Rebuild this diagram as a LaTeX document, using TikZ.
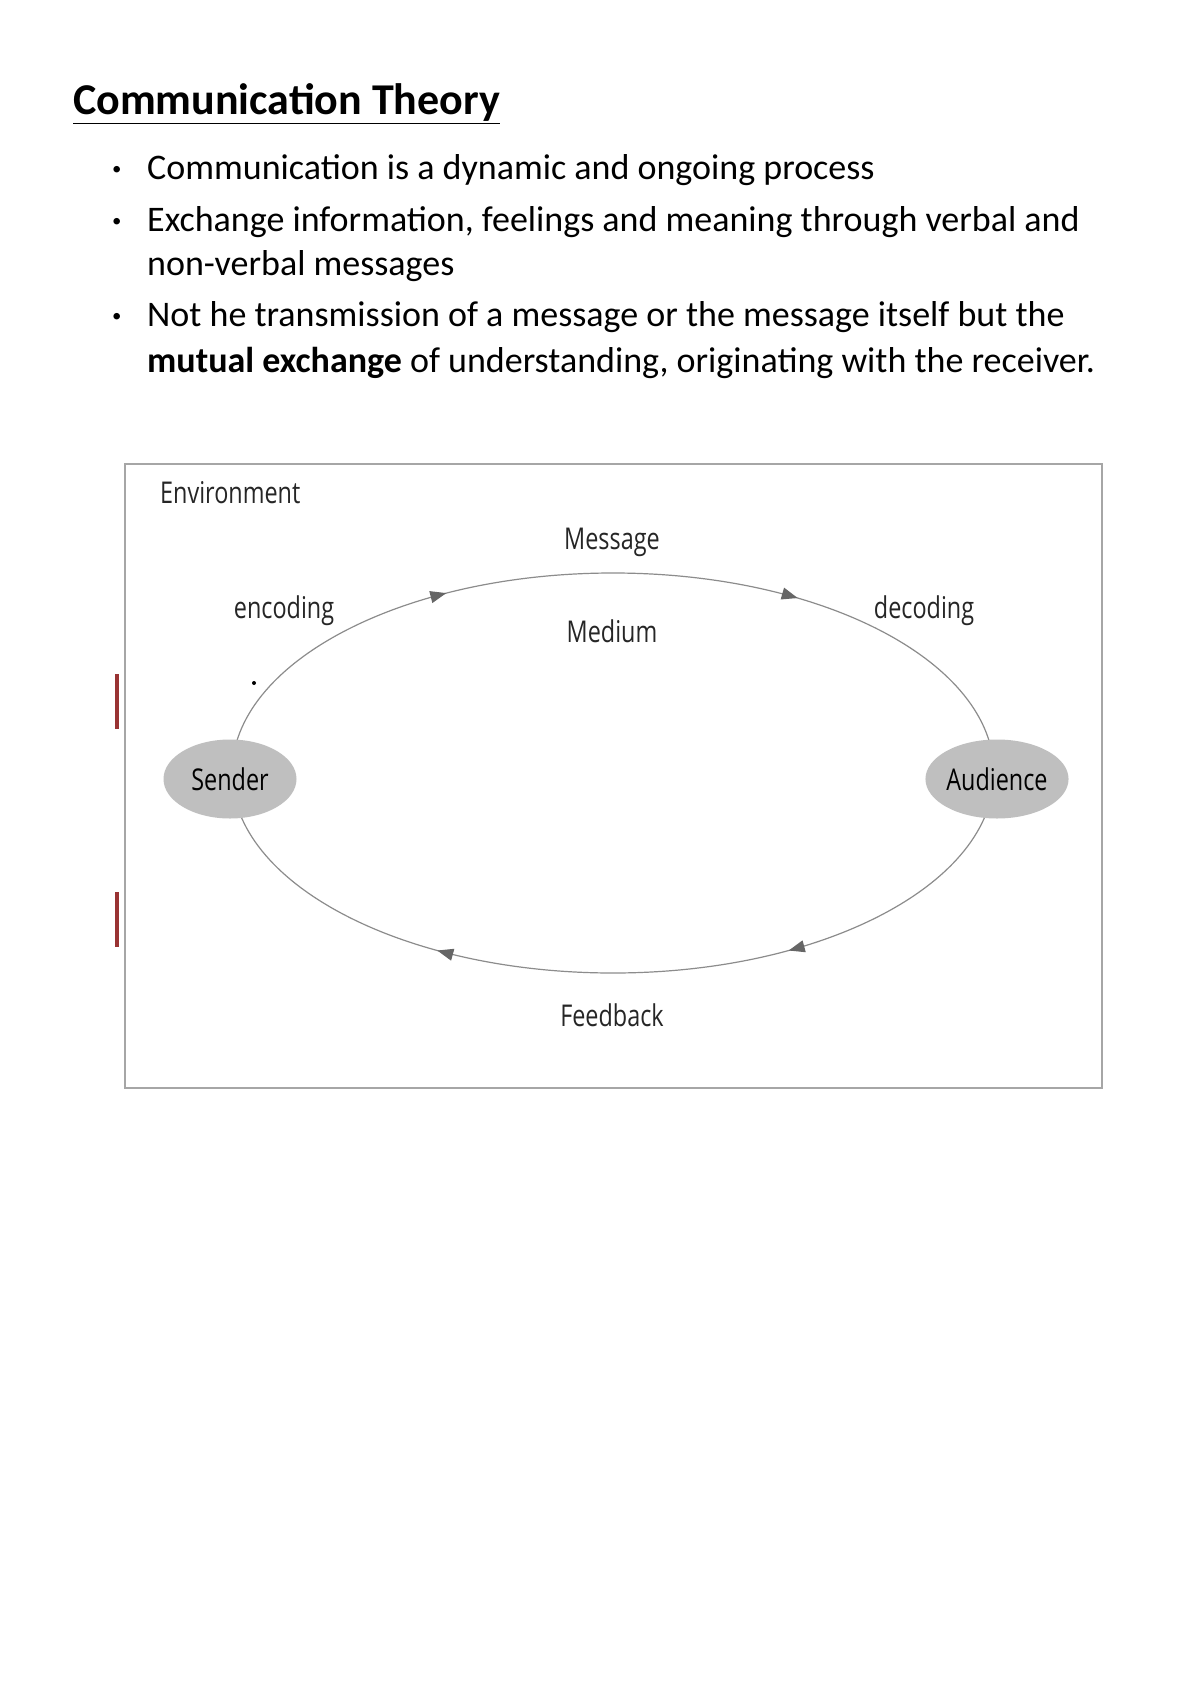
\documentclass[tikz,border=0pt]{standalone}
\usepackage{fontspec}
\setmainfont{Carlito}
\newfontfamily\diagfont{Open Sans}
\usetikzlibrary{shapes.geometric,decorations.markings,arrows.meta}
\begin{document}
\begin{tikzpicture}[x=1pt,y=-1pt,
  body/.style={anchor=base west,inner sep=0pt,font=\fontsize{36}{40}\selectfont},
  dot/.style={anchor=base west,inner sep=0pt,font=\bfseries\fontsize{35}{40}\selectfont},
  lbl/.style={font=\diagfont\fontsize{30}{34}\selectfont\addfontfeatures{FakeStretch=0.78},text=black!85,inner sep=0pt},
  party/.style={ellipse,fill=black!25,minimum width=133pt,minimum height=79pt,inner sep=0pt,font=\diagfont\fontsize{30}{34}\selectfont\addfontfeatures{FakeStretch=0.78}}]
\useasboundingbox (0,0) rectangle (1200,1696);
\fill[white] (0,0) rectangle (1200,1696);
\node[anchor=base west,inner sep=0pt,font=\bfseries\fontsize{44}{48}\selectfont] (title) at (73,115) {\underline{Communication Theory}};
\node[dot] (b1) at (112,180) {\textperiodcentered};
\node[body] (t1) at (147,180) {Communication is a dynamic and ongoing process};
\node[dot] (b2) at (112,232) {\textperiodcentered};
\node[body] (t2) at (147,232) {Exchange information, feelings and meaning through verbal and};
\node[body] (t2b) at (147,275) {non-verbal messages};
\node[dot] (b3) at (112,326) {\textperiodcentered};
\node[body] (t3) at (147,326) {Not he transmission of a message or the message itself but the};
\node[body] (t3b) at (147,372) {\textbf{mutual exchange} of understanding, originating with the receiver.};
\draw[black!35,line width=1.5pt] (125,464) rectangle (1102,1088);
\fill[red!50!black!80] (115,674) rectangle (119,729);
\fill[red!50!black!80] (115,892) rectangle (119,947);
\fill (254,683) circle (2pt);
\coordinate (c) at (613,773);
\draw[black!45,line width=1.2pt,postaction={decorate},decoration={markings,
  mark=at position 0.155 with {\arrow[black!60]{Triangle[length=16pt,width=12pt]}},
  mark=at position 0.345 with {\arrow[black!60]{Triangle[length=16pt,width=12pt]}},
  mark=at position 0.66 with {\arrow[black!60]{Triangle[length=16pt,width=12pt]}},
  mark=at position 0.85 with {\arrow[black!60]{Triangle[length=16pt,width=12pt]}}}]
  (c) ++(381,0) arc[start angle=0,end angle=360,x radius=381,y radius=200];
\node[party] (sender) at (230,779) {Sender};
\node[party] (audience) at (997,779) {Audience};
\node[lbl,anchor=base west] (env) at (160,503) {Environment};
\node[lbl] (msg) at (612,542) {Message};
\node[lbl] (med) at (612,631) {Medium};
\node[lbl] (enc) at (284,611) {encoding};
\node[lbl] (dec) at (924,611) {decoding};
\node[lbl] (fb) at (612,1015) {Feedback};
\end{tikzpicture}
\end{document}
